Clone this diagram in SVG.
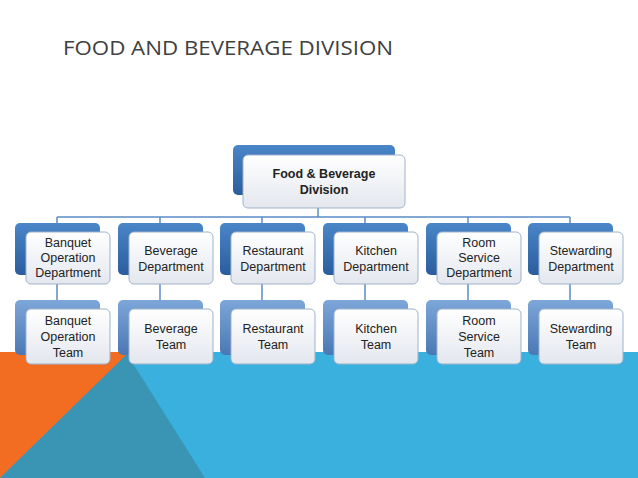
<svg xmlns="http://www.w3.org/2000/svg" width="638" height="478" viewBox="0 0 638 478">
<defs>
<linearGradient id="bk" x1="0" y1="0" x2="0" y2="1"><stop offset="0" stop-color="#4a86c8"/><stop offset="1" stop-color="#2a5d9e"/></linearGradient>
<linearGradient id="bk2" x1="0" y1="0" x2="0" y2="1"><stop offset="0" stop-color="#7da6d8"/><stop offset="1" stop-color="#4a78b5"/></linearGradient>
<linearGradient id="fr" x1="0" y1="0" x2="0" y2="1"><stop offset="0" stop-color="#ffffff"/><stop offset="1" stop-color="#e3e7ee"/></linearGradient>
<style>
.b{fill:url(#bk)}.b2{fill:url(#bk2)}
.f{fill:url(#fr);stroke:#9fb3cc;stroke-width:1}
.t{font-family:"Liberation Sans",Arial,sans-serif;font-size:12.5px;fill:#222;text-anchor:middle}
.c{stroke:#5b8cc6;stroke-width:1.5;fill:none}
</style>
</defs>
<rect width="638" height="478" fill="#fff"/>
<rect x="0" y="352" width="638" height="126" fill="#3ab0de"/>
<polygon points="0,352 130,352 0,478" fill="#f26d21"/>
<polygon points="0,478 127,354 205,478" fill="#3a94b3"/>
<text x="63" y="55" font-family="'Open Sans','Liberation Sans',sans-serif" font-size="20" fill="#404040" textLength="330" lengthAdjust="spacingAndGlyphs">FOOD AND BEVERAGE DIVISION</text>
<g id="connectors">
<path class="c" d="M318,208V217M57,217H570M57,217V232M160,217V232M262,217V232M365,217V232M468,217V232M570,217V232M57,283V308M160,283V308M262,283V308M365,283V308M468,283V308M570,283V308"/>
</g>
<g id="top"><rect class="b" x="233" y="145" width="162" height="50" rx="5"/><rect class="f" x="243" y="155" width="162" height="53" rx="5"/>
<text class="t" font-weight="bold" x="324" y="178">Food &amp; Beverage</text><text class="t" font-weight="bold" x="324" y="194">Division</text></g>
<g id="d1"><rect class="b" x="15" y="223" width="85" height="52" rx="5"/><rect class="f" x="26" y="232" width="84" height="52" rx="5"/><text class="t" x="68" y="247">Banquet</text><text class="t" x="68" y="262">Operation</text><text class="t" x="68" y="277">Department</text></g>
<g id="d2"><rect class="b" x="118" y="223" width="85" height="52" rx="5"/><rect class="f" x="129" y="232" width="84" height="52" rx="5"/><text class="t" x="171" y="255">Beverage</text><text class="t" x="171" y="271">Department</text></g>
<g id="d3"><rect class="b" x="220" y="223" width="85" height="52" rx="5"/><rect class="f" x="231" y="232" width="84" height="52" rx="5"/><text class="t" x="273" y="255">Restaurant</text><text class="t" x="273" y="271">Department</text></g>
<g id="d4"><rect class="b" x="323" y="223" width="85" height="52" rx="5"/><rect class="f" x="334" y="232" width="84" height="52" rx="5"/><text class="t" x="376" y="255">Kitchen</text><text class="t" x="376" y="271">Department</text></g>
<g id="d5"><rect class="b" x="426" y="223" width="85" height="52" rx="5"/><rect class="f" x="437" y="232" width="84" height="52" rx="5"/><text class="t" x="479" y="247">Room</text><text class="t" x="479" y="262">Service</text><text class="t" x="479" y="277">Department</text></g>
<g id="d6"><rect class="b" x="528" y="223" width="85" height="52" rx="5"/><rect class="f" x="539" y="232" width="84" height="52" rx="5"/><text class="t" x="581" y="255">Stewarding</text><text class="t" x="581" y="271">Department</text></g>
<g id="t1"><rect class="b2" x="15" y="300" width="85" height="55" rx="5"/><rect class="f" x="26" y="309" width="84" height="55" rx="5"/><text class="t" x="68" y="325">Banquet</text><text class="t" x="68" y="341">Operation</text><text class="t" x="68" y="357">Team</text></g>
<g id="t2"><rect class="b2" x="118" y="300" width="85" height="55" rx="5"/><rect class="f" x="129" y="309" width="84" height="55" rx="5"/><text class="t" x="171" y="333">Beverage</text><text class="t" x="171" y="349">Team</text></g>
<g id="t3"><rect class="b2" x="220" y="300" width="85" height="55" rx="5"/><rect class="f" x="231" y="309" width="84" height="55" rx="5"/><text class="t" x="273" y="333">Restaurant</text><text class="t" x="273" y="349">Team</text></g>
<g id="t4"><rect class="b2" x="323" y="300" width="85" height="55" rx="5"/><rect class="f" x="334" y="309" width="84" height="55" rx="5"/><text class="t" x="376" y="333">Kitchen</text><text class="t" x="376" y="349">Team</text></g>
<g id="t5"><rect class="b2" x="426" y="300" width="85" height="55" rx="5"/><rect class="f" x="437" y="309" width="84" height="55" rx="5"/><text class="t" x="479" y="325">Room</text><text class="t" x="479" y="341">Service</text><text class="t" x="479" y="357">Team</text></g>
<g id="t6"><rect class="b2" x="528" y="300" width="85" height="55" rx="5"/><rect class="f" x="539" y="309" width="84" height="55" rx="5"/><text class="t" x="581" y="333">Stewarding</text><text class="t" x="581" y="349">Team</text></g>
</svg>
